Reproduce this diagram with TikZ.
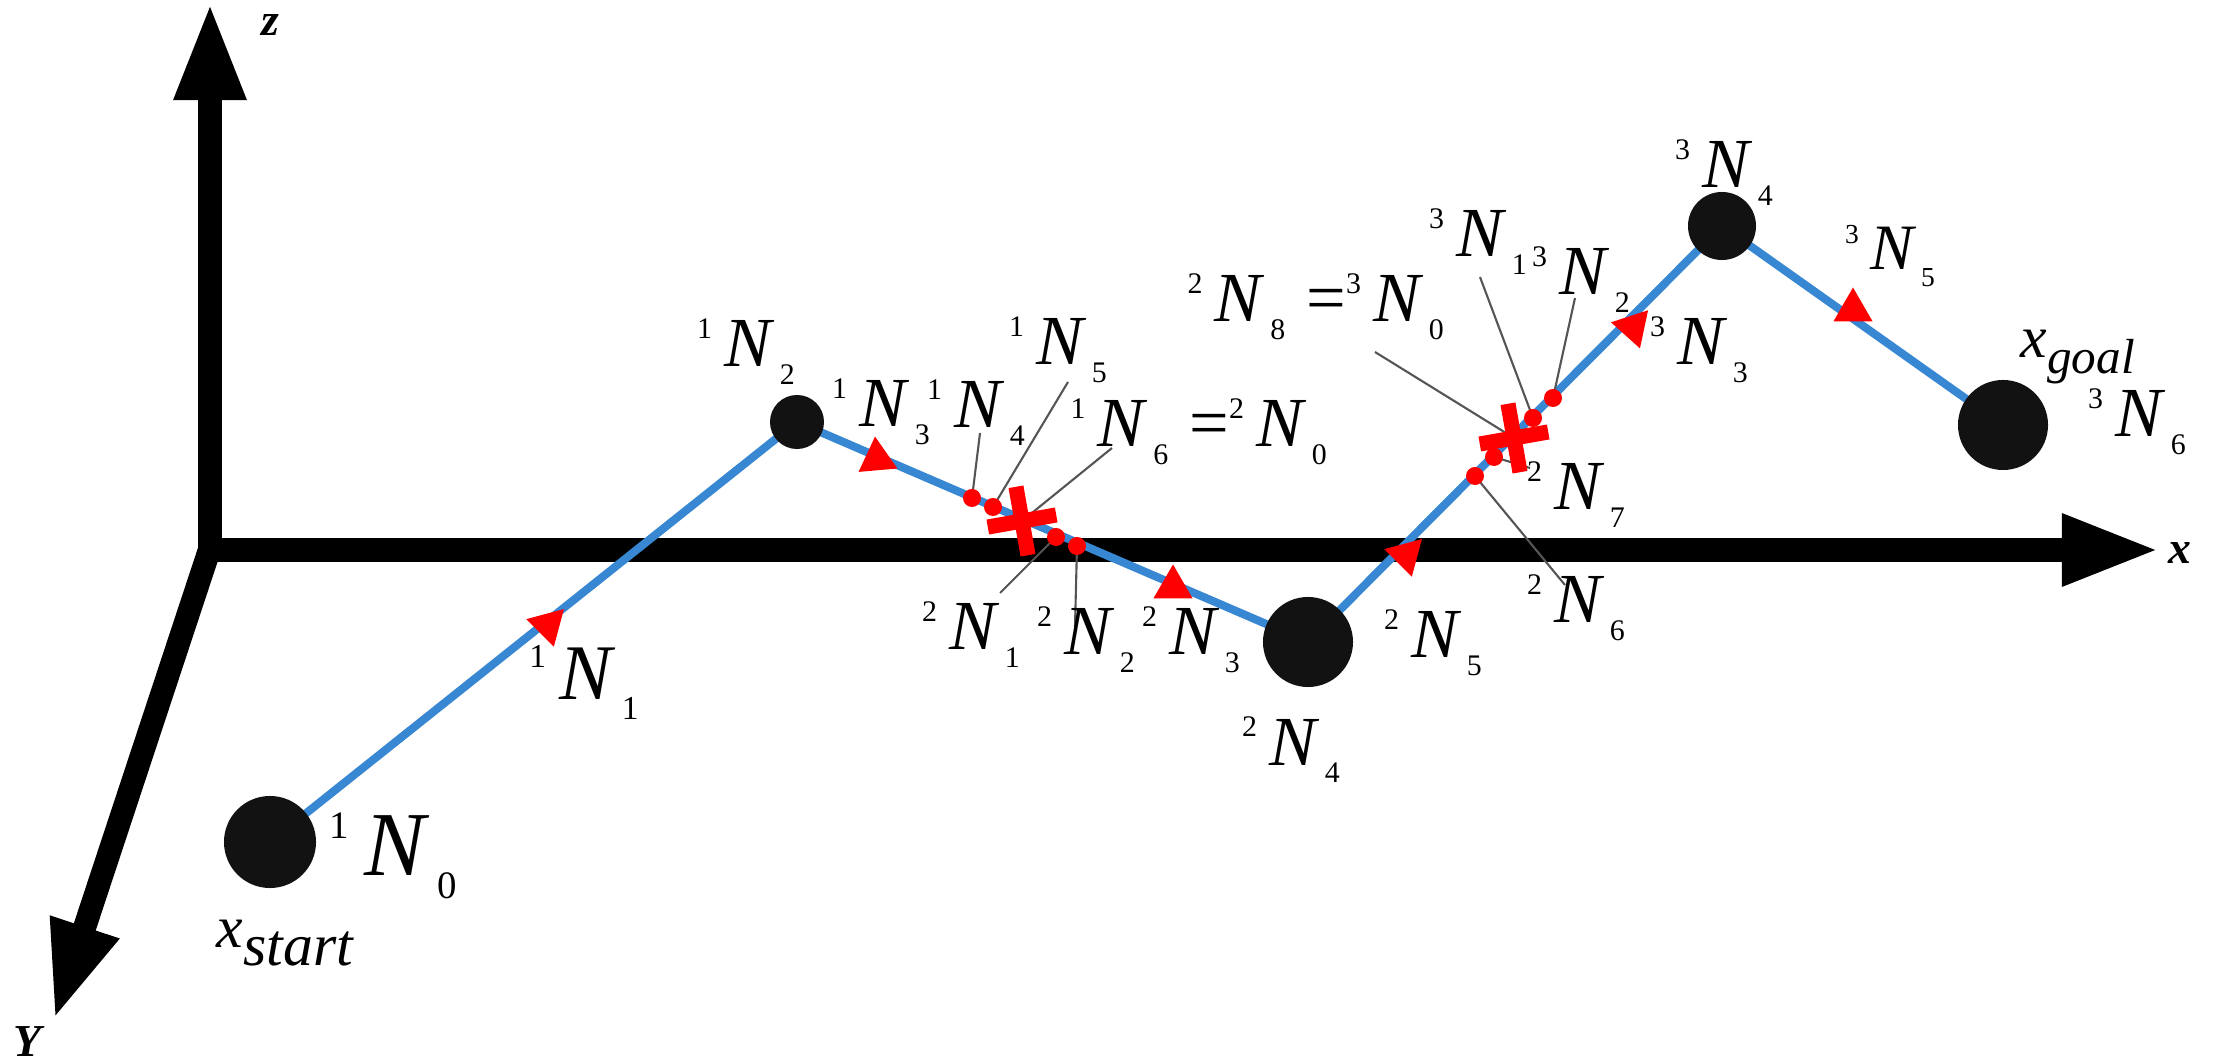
\documentclass[tikz,border=0pt]{standalone}
\usepackage{fontspec}
\setmainfont{Liberation Serif}
\usetikzlibrary{arrows.meta,shapes.geometric,shapes.misc,backgrounds}
\definecolor{pathblue}{RGB}{55,135,210}
\definecolor{leadgray}{RGB}{85,85,85}
\newcommand{\Nl}[2]{\raisebox{8.2pt}{\fontsize{8.5}{9}\selectfont #1}\hspace{3.5pt}\textit{N}\hspace{1.5pt}\raisebox{-5pt}{\fontsize{8.5}{9}\selectfont #2}}
\begin{document}
\begin{tikzpicture}[x=0.01cm,y=-0.01cm,
  axisline/.style={line width=0.23cm, line join=miter},
  waypt/.style={circle, fill=black!93, inner sep=0pt},
  route/.style={draw=pathblue, line width=2.3pt},
  tri/.style={regular polygon, regular polygon sides=3, fill=red, inner sep=0pt, minimum size=0.45cm},
  dotm/.style={circle, fill=red, inner sep=0pt, minimum size=0.18cm},
  crossm/.style={cross out, draw=red, line width=4.3pt, inner sep=0pt, minimum size=0.34cm},
  leader/.style={draw=leadgray, line width=0.6pt},
  lab/.style={font=\fontsize{20}{22}\selectfont, inner sep=0pt, anchor=base},
  labw/.style={font=\fontsize{20}{22}\selectfont, inner sep=0pt, anchor=base west},
  axlab/.style={font=\fontsize{13}{14}\selectfont\bfseries\itshape, inner sep=0pt}
]
\useasboundingbox (0,0) rectangle (2217,1064);

% axis end points
\coordinate (O) at (210,550);
\coordinate (ztip) at (210,2);
\coordinate (xtip) at (2160,550);
\coordinate (ytip) at (54,1020);

% way points
\node[waypt, minimum size=0.92cm] (S) at (270,842) {};
\node[waypt, minimum size=0.54cm] (A) at (797,422) {};
\node[waypt, minimum size=0.90cm] (B) at (1308,642) {};
\node[waypt, minimum size=0.68cm] (C) at (1722,226) {};
\node[waypt, minimum size=0.90cm] (G) at (2003,425) {};

\begin{pgfonlayer}{background}
  \draw[axisline, {Triangle[length=0.98cm,width=0.66cm]}-{Triangle[length=0.98cm,width=0.66cm]}] (ztip) -- (O) -- (xtip);
  \draw[axisline, -{Triangle[length=0.98cm,width=0.66cm]}] ([shift={(2,-8)}]O) -- (ytip);
  \draw[route] (S.center) -- (A.center) -- (B.center) -- (C.center) -- (G.center);
\end{pgfonlayer}

% axis labels
\node[axlab] (zl) at (270,25) {z};
\node[axlab] (xl) at (2180,553) {x};
\node[axlab] (yl) at (27,1042) {Y};

% marker coordinates
\coordinate (pd1) at (972,498);
\coordinate (pd2) at (993,507);
\coordinate (pc1) at (1022,521);
\coordinate (pd3) at (1056,537);
\coordinate (pd4) at (1077,546);
\coordinate (pd7) at (1475,476);
\coordinate (pd8) at (1494,457);
\coordinate (pc2) at (1514,438);
\coordinate (pd5) at (1533,418);
\coordinate (pd6) at (1553,398);

% leader ends at labels
\coordinate (e14) at (980,433);
\coordinate (e15) at (1068,382);
\coordinate (e16) at (1112,448);
\coordinate (e21) at (1000,593);
\coordinate (e22) at (1075,627);
\coordinate (e28) at (1375,352);
\coordinate (e31) at (1480,277);
\coordinate (e32) at (1575,298);
\coordinate (e26) at (1565,585);
\coordinate (e27) at (1530,468);

\draw[leader] (e14) -- (pd1);
\draw[leader] (e15) -- (pd2);
\draw[leader] (e16) -- (pc1);
\draw[leader] (e21) -- (pd3);
\draw[leader] (e22) -- (pd4);
\draw[leader] (e28) -- (pc2);
\draw[leader] (e31) -- (pd5);
\draw[leader] (e32) -- (pd6);
\draw[leader] (e26) -- (pd7);
\draw[leader] (e27) -- (pd8);

% markers
\node[tri, rotate=-45] (t1) at (548,625) {};
\node[tri, rotate=5] (t2) at (877,459) {};
\node[tri] (t3) at (1173,587) {};
\node[tri, rotate=-45] (t4) at (1406,555) {};
\node[tri, rotate=-42] (t5) at (1633,327) {};
\node[tri] (t6) at (1853,310) {};

\node[dotm] (d1) at (pd1) {};
\node[dotm] (d2) at (pd2) {};
\node[dotm] (d3) at (pd3) {};
\node[dotm] (d4) at (pd4) {};
\node[dotm] (d7) at (pd7) {};
\node[dotm] (d8) at (pd8) {};
\node[dotm] (d5) at (pd5) {};
\node[dotm] (d6) at (pd6) {};
\node[crossm, rotate=55] (c1) at (pc1) {};
\node[crossm, rotate=55] (c2) at (pc2) {};

% labels
\node[lab, scale=1.3] (l10) at (393,876) {\Nl{1}{0}};
\node[lab, scale=1.12] (l11) at (584,700) {\Nl{1}{1}};
\node[lab] (l12) at (746,367) {\Nl{1}{2}};
\node[lab] (l13) at (881,427) {\Nl{1}{3}};
\node[lab] (l14) at (976,428) {\Nl{1}{4}};
\node[lab] (l15) at (1058,365) {\Nl{1}{5}};
\node[labw] (l16) at (1070,447) {\Nl{1}{6}\hspace{6pt}=\Nl{2}{0}};
\node[labw] (l28) at (1187,322) {\Nl{2}{8}\hspace{6pt}=\Nl{3}{0}};
\node[lab] (l31) at (1478,257) {\Nl{3}{1}};
\node[lab] (l32) at (1581,295) {\Nl{3}{2}};
\node[lab] (l33) at (1699,365) {\Nl{3}{3}};
\node[lab] (l34) at (1724,188) {\Nl{3}{4}};
\node[lab, scale=0.92] (l35) at (1890,270) {\Nl{3}{5}};
\node[lab] (l36) at (2137,437) {\Nl{3}{6}};
\node[lab] (l21) at (971,650) {\Nl{2}{1}};
\node[lab] (l22) at (1086,655) {\Nl{2}{2}};
\node[lab] (l23) at (1191,655) {\Nl{2}{3}};
\node[lab] (l24) at (1291,765) {\Nl{2}{4}};
\node[lab] (l25) at (1433,658) {\Nl{2}{5}};
\node[lab] (l26) at (1576,623) {\Nl{2}{6}};
\node[lab] (l27) at (1576,510) {\Nl{2}{7}};

\node[font=\fontsize{17}{18}\selectfont, inner sep=0pt, anchor=base west] (xs) at (216,948) {\textit{x}\raisebox{-5pt}{\textit{start}}};
\node[font=\fontsize{17}{18}\selectfont, inner sep=0pt, anchor=base west] (xg) at (2020,358) {\textit{x}\raisebox{-4.5pt}{\fontsize{14}{15}\selectfont\textit{goal}}};
\end{tikzpicture}
\end{document}
